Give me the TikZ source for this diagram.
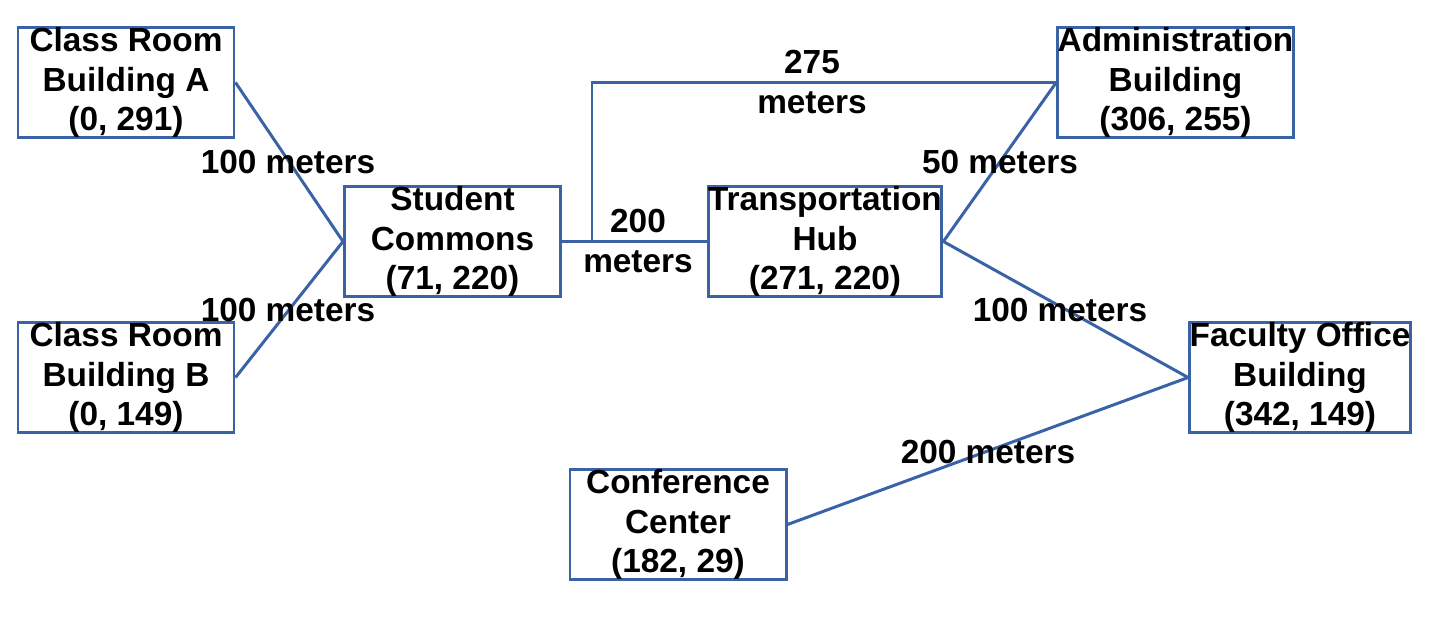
\documentclass[tikz,border=0pt]{standalone}
\usepackage{fontspec}
\setmainfont{Liberation Sans}
\usetikzlibrary{positioning}
\definecolor{boxblue}{HTML}{3A62A7}
\begin{document}
\begin{tikzpicture}[every node/.style={font=\fontsize{19}{22.5}\selectfont\bfseries},
  bldg/.style={draw=boxblue, line width=1.7pt, minimum width=4.32cm, minimum height=2.18cm, align=center, inner sep=0pt},
  link/.style={draw=boxblue, line width=1.7pt},
  dist/.style={align=center}]
  \useasboundingbox (0,0) rectangle (28.8,12.4);
  % buildings
  \node[bldg] (roomA) at (2.52,10.75) {Class Room\\Building A\\(0, 291)};
  \node[bldg] (roomB) at (2.52,4.85) {Class Room\\Building B\\(0, 149)};
  \node[bldg] (commons) at (9.05,7.57) {Student\\Commons\\(71, 220)};
  \node[bldg] (hub) at (16.5,7.57) {Transportation\\Hub\\(271, 220)};
  \node[bldg] (admin) at (23.51,10.75) {Administration\\Building\\(306, 255)};
  \node[bldg] (faculty) at (26.0,4.85) {Faculty Office\\Building\\(342, 149)};
  \node[bldg] (conf) at (13.56,1.91) {Conference\\Center\\(182, 29)};
  \coordinate (branch) at (11.84,7.57);
  \coordinate (bend) at (11.84,10.75);
  % connectors
  \draw[link] (roomA.east) -- (commons.west);
  \draw[link] (roomB.east) -- (commons.west);
  \draw[link] (commons.east) -- (hub.west);
  \draw[link] (branch) -- (bend) -- (admin.west);
  \draw[link] (hub.east) -- (admin.west);
  \draw[link] (hub.east) -- (faculty.west);
  \draw[link] (conf.east) -- (faculty.west);
  % distances
  \node[dist] at (5.76,9.16) {100 meters};
  \node[dist] at (5.76,6.2) {100 meters};
  \node[dist] at (16.24,10.76) {275\\meters};
  \node[dist] at (12.76,7.58) {200\\meters};
  \node[dist] at (20.0,9.16) {50 meters};
  \node[dist] at (21.2,6.2) {100 meters};
  \node[dist] at (19.76,3.36) {200 meters};
\end{tikzpicture}
\end{document}
